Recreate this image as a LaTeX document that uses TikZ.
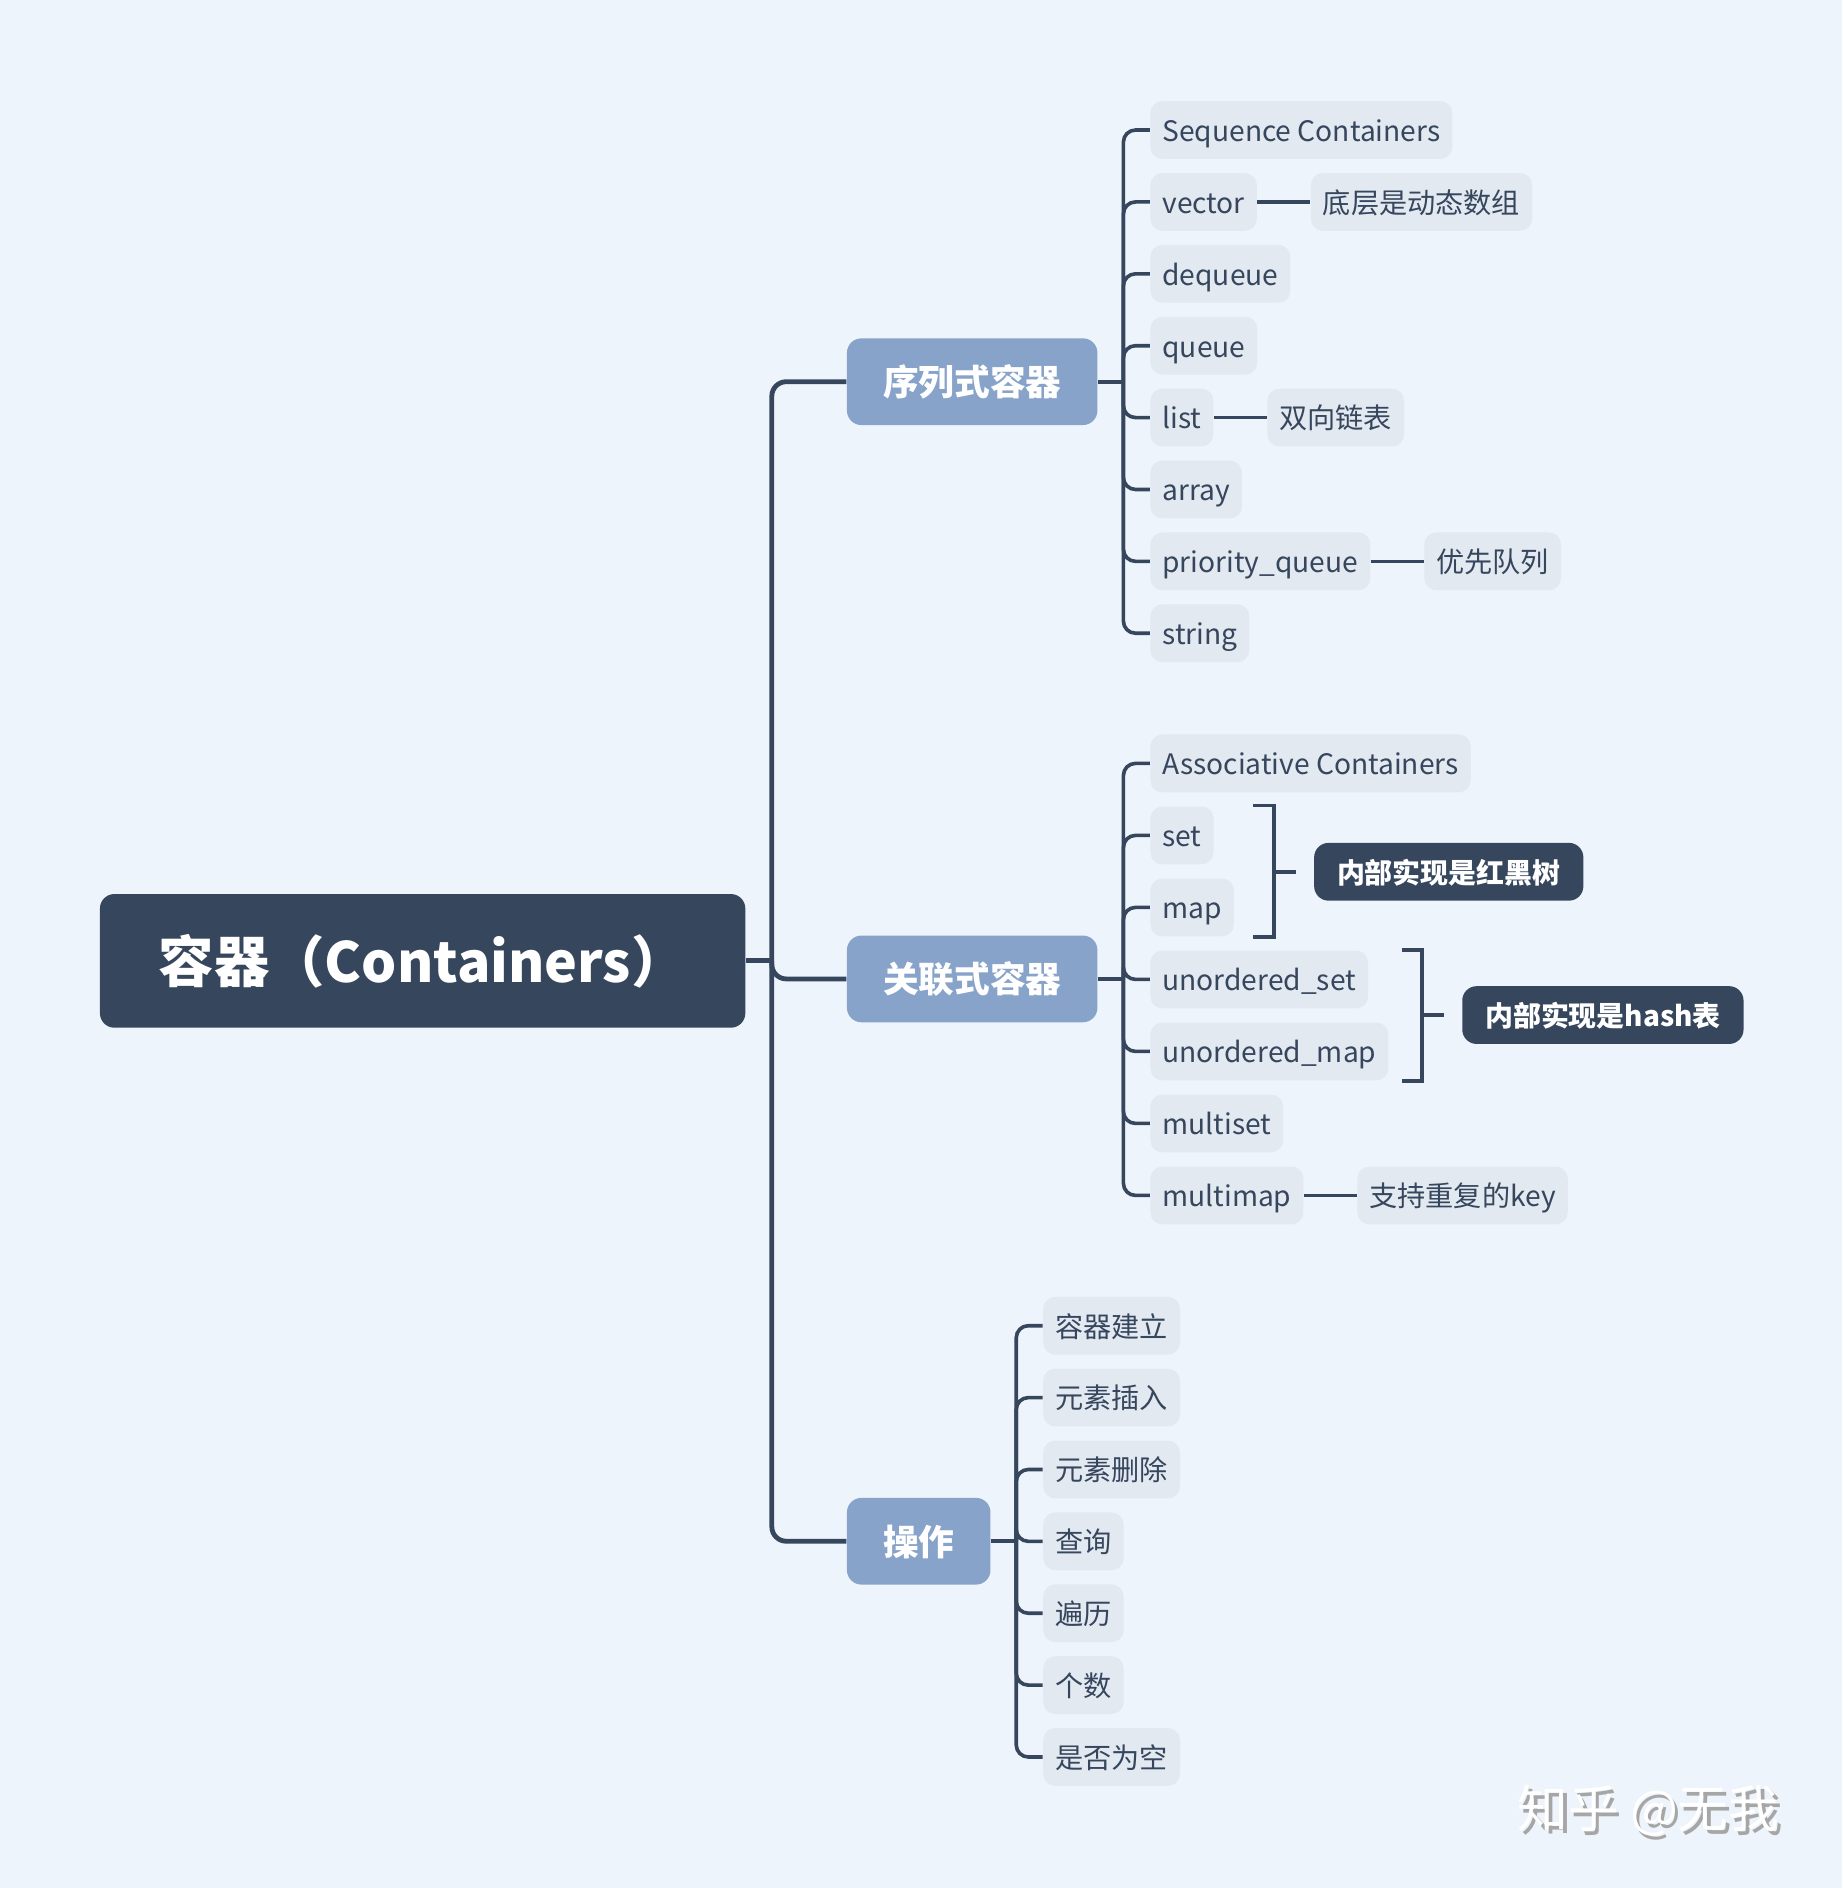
\documentclass[tikz,border=0pt]{standalone}
\usepackage{fontspec}
\setmainfont{Noto Sans CJK SC}
\usetikzlibrary{positioning}
\definecolor{bgcol}{HTML}{EEF4FB}
\definecolor{darkcol}{HTML}{36465D}
\definecolor{branchcol}{HTML}{87A3C9}
\definecolor{leafcol}{HTML}{E3E9F1}

\begin{document}
\begin{tikzpicture}[x=0.5pt,y=-0.5pt]
        \tikzstyle{root node}=[fill=darkcol,text=white,font=\fontsize{23}{27}\selectfont\bfseries,rounded corners=6pt,minimum width=268pt,minimum height=55.5pt,text height=20.5pt,text depth=2.5pt]
        \tikzstyle{branch node}=[fill=branchcol,text=white,font=\fontsize{14.8}{18}\selectfont\bfseries,rounded corners=6pt,minimum height=36pt,inner xsep=15pt,text height=12.5pt,text depth=1pt,anchor=west]
        \tikzstyle{leaf node}=[fill=leafcol,text=darkcol,font=\fontsize{11.7}{14}\selectfont,rounded corners=5pt,minimum height=24pt,inner xsep=5pt,text height=10.4pt,text depth=1pt,anchor=west]
        \tikzstyle{dark note}=[fill=darkcol,text=white,font=\fontsize{11.6}{14}\selectfont\bfseries,rounded corners=6pt,minimum height=24pt,inner xsep=9.5pt,text height=10.4pt,text depth=1pt,anchor=west]
        \tikzstyle{trunk}=[draw=darkcol,line width=2pt,rounded corners=6pt]
        \tikzstyle{link}=[draw=darkcol,line width=1.5pt,rounded corners=5pt]
        \useasboundingbox (0,0) rectangle (1530,1568);
        \fill[bgcol] (0,0) rectangle (1530,1568);
        % root and branches
        \node[root node] (Root) at (351,798) {容器（Containers）};
        \node[branch node] (Seq) at (703,317) {序列式容器};
        \node[branch node] (Assoc) at (703,813) {关联式容器};
        \node[branch node] (Ops) at (703,1280) {操作};
        \coordinate (RootJoin) at (641,798);
        \draw[trunk] (Root.east) -- (RootJoin);
        \foreach \b in {Seq,Assoc,Ops}
            \draw[trunk] (RootJoin) |- (\b.west);
        % sequence containers
        \coordinate (SeqJoin) at (933,317);
        \draw[link] (Seq.east) -- (SeqJoin);
        \foreach \name/\txt [count=\i from 0] in {SeqHead/Sequence Containers,Vector/vector,Dequeue/dequeue,Queue/queue,List/list,Array/array,PQueue/priority\_queue,String/string}
        {
            \node[leaf node] (\name) at (955,108+59.7*\i) {\txt};
            \draw[link] (SeqJoin) |- (\name.west);
        }
        \node[leaf node,right=22pt of Vector] (VectorNote) {底层是动态数组};
        \node[leaf node,right=22pt of List] (ListNote) {双向链表};
        \node[leaf node,right=22pt of PQueue] (PQueueNote) {优先队列};
        \draw[link] (Vector) -- (VectorNote);
        \draw[link] (List) -- (ListNote);
        \draw[link] (PQueue) -- (PQueueNote);
        % associative containers
        \coordinate (AssocJoin) at (933,813);
        \draw[link] (Assoc.east) -- (AssocJoin);
        \foreach \name/\txt [count=\i from 0] in {AssocHead/Associative Containers,Set/set,Map/map,USet/unordered\_set,UMap/unordered\_map,MultiSet/multiset,MultiMap/multimap}
        {
            \node[leaf node] (\name) at (955,634+59.8*\i) {\txt};
            \draw[link] (AssocJoin) |- (\name.west);
        }
        \node[leaf node,right=22pt of MultiMap] (MultiMapNote) {支持重复的key};
        \draw[link] (MultiMap) -- (MultiMapNote);
        \node[dark note] (TreeNote) at (1091,724) {内部实现是红黑树};
        \node[dark note] (HashNote) at (1214,843) {内部实现是hash表};
        \draw[link,rounded corners=0pt] (1041,669) -- (1058,669) -- (1058,778) -- (1041,778);
        \draw[link,rounded corners=0pt] (1164,789) -- (1181,789) -- (1181,898) -- (1164,898);
        \coordinate (TreeBrace) at (1058,724);
        \coordinate (HashBrace) at (1181,843);
        \draw[link,shorten >=7.5pt] (TreeBrace) -- (TreeNote.west);
        \draw[link,shorten >=7.5pt] (HashBrace) -- (HashNote.west);
        % operations
        \coordinate (OpsJoin) at (844,1280);
        \draw[link] (Ops.east) -- (OpsJoin);
        \foreach \name/\txt [count=\i from 0] in {Build/容器建立,Insert/元素插入,Erase/元素删除,Find/查询,Walk/遍历,Count/个数,Empty/是否为空}
        {
            \node[leaf node] (\name) at (866,1101+59.7*\i) {\txt};
            \draw[link] (OpsJoin) |- (\name.west);
        }
        % watermark
        \node[text=gray!70,font=\fontsize{21}{24}\selectfont] (MarkShadow) at (1372,1507) {知乎 @无我};
        \node[text=white,font=\fontsize{21}{24}\selectfont] (Mark) at (1369,1504) {知乎 @无我};
\end{tikzpicture}
\end{document}
